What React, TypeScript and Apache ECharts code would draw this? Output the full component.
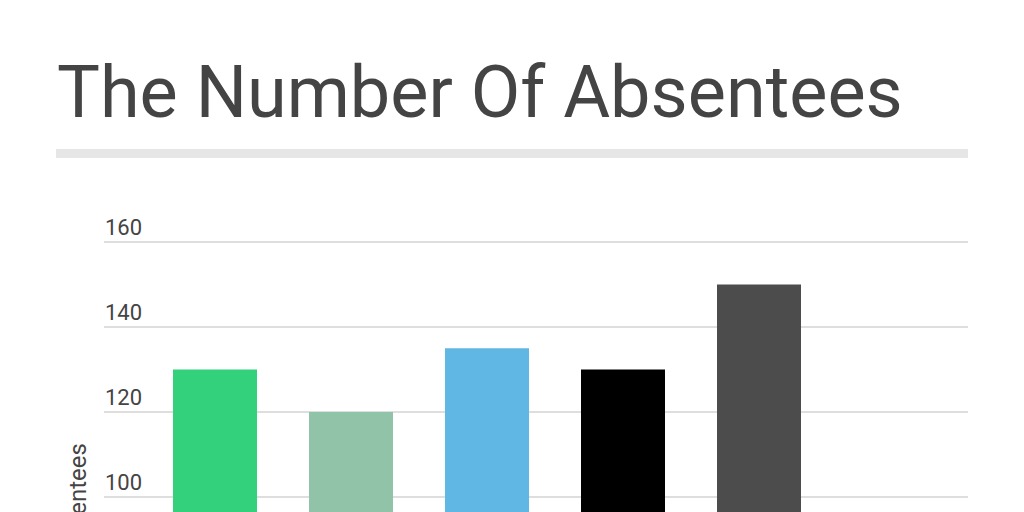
import { useEffect, useRef } from 'react';
import * as echarts from 'echarts';

const categories = ['Mon', 'Tue', 'Wed', 'Thu', 'Fri'];
const absentees = [130, 120, 135, 130, 150];
const barColors = ['#34d17c', '#90c3a8', '#60b7e4', '#000000', '#4c4c4c'];
const yMin = 0;
const yMax = 160;
const yStep = 20;

const FONT = 'Roboto, "Noto Sans", sans-serif';

export default function App() {
  const chartRef = useRef<HTMLDivElement>(null);

  useEffect(() => {
    if (!chartRef.current) return;
    const chart = echarts.init(chartRef.current, undefined, { renderer: 'svg' });

    const option: echarts.EChartsOption = {
      animation: false,
      backgroundColor: '#ffffff',
      title: {
        text: 'The Number Of Absentees',
        left: 57,
        top: 56,
        padding: 0,
        textStyle: { fontFamily: FONT, fontSize: 72, fontWeight: 'normal', color: '#444444', lineHeight: 72 },
      },
      graphic: [
        { type: 'rect', left: 56, top: 149, shape: { width: 912, height: 9 }, style: { fill: '#e6e6e6' } },
      ],
      grid: [
        { left: 104, right: 56, top: 242, bottom: 78 },
        { left: 147, right: 197, top: 242, bottom: 78 },
      ],
      xAxis: [
        { type: 'category', gridIndex: 0, data: categories, show: false },
        {
          type: 'category',
          gridIndex: 1,
          data: categories,
          axisLine: { show: false },
          axisTick: { show: false },
          axisLabel: { fontFamily: FONT, fontSize: 22, color: '#444444' },
        },
      ],
      yAxis: [
        {
          type: 'value',
          gridIndex: 0,
          min: yMin,
          max: yMax,
          interval: yStep,
          name: 'Number Of Absentees',
          nameLocation: 'middle',
          nameRotate: 90,
          nameGap: 14,
          nameTextStyle: { fontFamily: FONT, fontSize: 24, color: '#444444', lineHeight: 24, padding: [0, 0, 0, 42] },
          axisLine: { show: false },
          axisTick: { show: false },
          axisLabel: {
            inside: true,
            margin: 1,
            align: 'left',
            verticalAlign: 'bottom',
            lineHeight: 30,
            fontFamily: FONT,
            fontSize: 22,
            color: '#444444',
          },
          splitLine: { lineStyle: { color: '#dedede', width: 2 } },
        },
        { type: 'value', gridIndex: 1, min: yMin, max: yMax, interval: yStep, show: false, splitLine: { show: false } },
      ],
      series: [
        {
          type: 'bar',
          xAxisIndex: 1,
          yAxisIndex: 1,
          barWidth: 84,
          data: absentees.map((value, index) => ({ value, itemStyle: { color: barColors[index] } })),
        },
      ],
    };

    chart.setOption(option);
    return () => chart.dispose();
  }, []);

  return (
    <div style={{ position: 'fixed', left: 0, top: 0, width: 1024, height: 512, overflow: 'hidden', background: '#fff' }}>
      <div ref={chartRef} style={{ width: 1024, height: 1000 }}></div>
    </div>
  );
}
